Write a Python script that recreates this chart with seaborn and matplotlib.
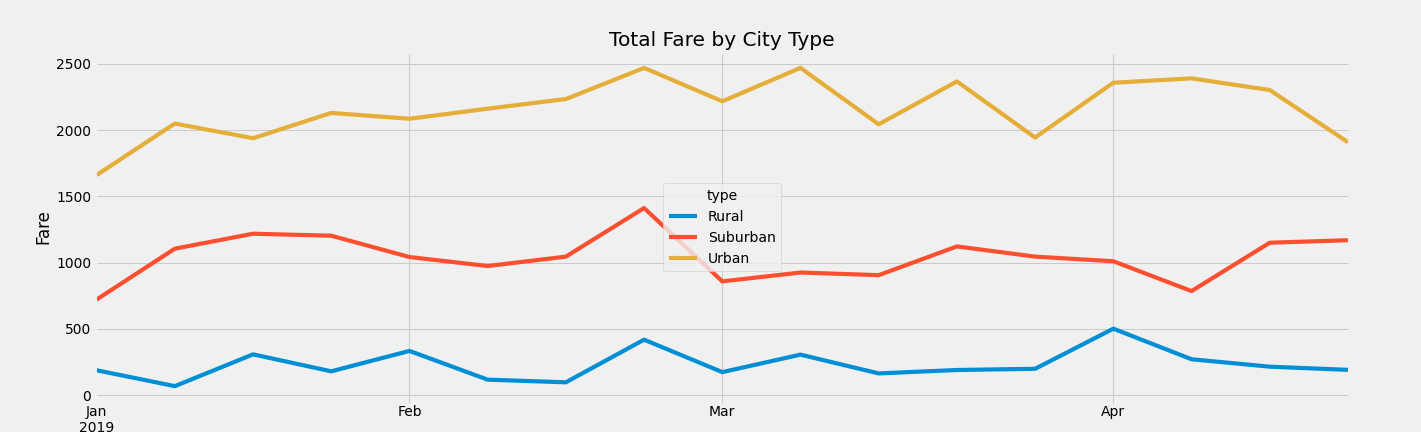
import pandas as pd
import matplotlib.pyplot as plt
import seaborn as sns

weeks = pd.date_range('2019-01-06', periods=17, freq='7D')
rural = [187, 67, 307, 179, 333, 116, 96, 418, 173, 305, 163, 189, 198, 501, 270, 214, 190]
suburban = [721, 1105, 1218, 1203, 1042, 974, 1045, 1412, 858, 925, 905, 1122, 1045, 1010, 785, 1150, 1169]
urban = [1661, 2050, 1939, 2130, 2086, 2162, 2235, 2470, 2218, 2470, 2044, 2368, 1944, 2358, 2391, 2303, 1909]
month_ticks = ['2019-01-06', '2019-02-03', '2019-03-03', '2019-04-07']
month_labels = ['Jan\n2019', 'Feb', 'Mar', 'Apr']

df = pd.DataFrame({'date': list(weeks) * 3,
                   'fare': rural + suburban + urban,
                   'type': ['Rural'] * 17 + ['Suburban'] * 17 + ['Urban'] * 17})

plt.style.use('fivethirtyeight')
bg = '#f0f0f0'
fig, ax = plt.subplots(figsize=(14.21, 4.32), dpi=100)
fig.patch.set_facecolor(bg)
ax.set_facecolor(bg)

sns.lineplot(data=df, x='date', y='fare', hue='type', linewidth=3,
             palette=['#008fd5', '#fc4f30', '#e5ae38'], ax=ax)

ax.set_xlim(weeks[0], weeks[-1])
ax.set_ylim(0, 2575)
ax.set_xticks(pd.to_datetime(month_ticks))
ax.set_xticklabels(month_labels, linespacing=1.1)
ax.set_yticks([0, 500, 1000, 1500, 2000, 2500])
ax.tick_params(axis='y', labelsize=10, length=0, pad=4)
ax.tick_params(axis='x', labelsize=10, length=5.5, width=0.75, color='#cbcbcb', pad=2)
ax.set_xlabel('')
ax.set_ylabel('Fare', fontsize=12, labelpad=2.5, y=0.495)
ax.set_title('Total Fare by City Type', fontsize=14.5, pad=6)
ax.grid(True, color='#cbcbcb', linewidth=0.75)
for s in ax.spines.values():
    s.set_visible(False)

# keep the zero gridline at full width
for line in ax.get_ygridlines():
    line.set_clip_on(False)

# no line or tick at the Jan position
first = ax.xaxis.get_major_ticks()[0]
first.gridline.set_visible(False)
first.tick1line.set_visible(False)

ax.legend(title='type', loc='center', bbox_to_anchor=(0.5, 0.492), fontsize=10.1, title_fontsize=10.1)

fig.subplots_adjust(left=0.068, right=0.9486, top=0.875, bottom=0.0856)
fig.savefig('out.png', dpi=100, facecolor=bg)
